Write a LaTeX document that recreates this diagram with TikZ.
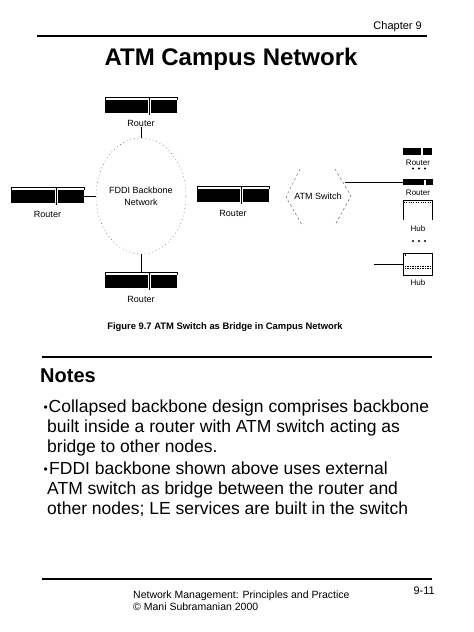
\documentclass[tikz,border=0pt]{standalone}
\usepackage{fontspec}
\setmainfont{Liberation Sans}
\usetikzlibrary{calc,shapes.geometric}
\tikzset{
  lbl/.style={font=\fontsize{9}{12}\selectfont, inner sep=0pt},
  smalllbl/.style={font=\fontsize{8}{9}\selectfont, inner sep=0pt},
  router/.style={minimum width=72pt, minimum height=18pt, inner sep=0pt},
  note/.style={anchor=base west, inner sep=0pt, font=\fontsize{17.5}{20}\selectfont},
  bull/.style={anchor=base west, inner sep=0pt, font=\fontsize{12}{12}\selectfont},
  rule/.style={line width=1.4pt},
  link/.style={line width=0.8pt},
}
\begin{document}
\begin{tikzpicture}[x=1pt,y=1pt]
	\useasboundingbox (0,0) rectangle (474,-632);
	% header
	\node[anchor=base east, inner sep=0pt, font=\fontsize{11}{13}\selectfont] (chap) at (422,-29) {Chapter 9};
	\draw[rule] (37,-36) -- (427,-36);
	\node[anchor=base, inner sep=0pt, font=\fontsize{24}{26}\selectfont\bfseries] (title) at (231,-65) {ATM Campus Network};
	% FDDI ring and routers
	\node[ellipse, draw, black!70, text=black, dash pattern=on 0.8pt off 3pt, minimum width=86pt, minimum height=116pt, align=center, lbl] (fddi) at (141,-196) {FDDI Backbone\\Network};
	\node[router] (rtop) at (141,-106) {};
	\node[router] (rleft) at (47.5,-196) {};
	\node[router] (rmid) at (233,-195) {};
	\node[router] (rbot) at (141,-281) {};
	\foreach \r in {rtop,rleft,rmid,rbot} {
		\coordinate (\r n) at ($(\r.north west)!0.62!(\r.north east)$);
		\coordinate (\r s) at ($(\r.south west)!0.62!(\r.south east)$);
		\fill ($(\r.north west)+(0,-3)$) rectangle ($(\r s)+(-1.5,2)$);
		\fill ($(\r n)+(1.5,-3)$) rectangle ($(\r.south east)+(0,2)$);
		\draw[thin] ($(\r.north west)+(0,-3)$) |- (\r.north east) -- ++(0,-3);
		\draw[thin] (\r n) -- (\r s);
	}
	\node[lbl, below=5pt] (rtopl) at (rtop.south) {Router};
	\node[lbl, below=6pt] (rleftl) at (rleft.south) {Router};
	\node[lbl, below=6pt] (rmidl) at (rmid.south) {Router};
	\node[lbl, below=6pt] (rbotl) at (rbot.south) {Router};
	\draw[link] (rtopl.south) -- (fddi.north);
	\draw[link] (rleft.east) -- (fddi.west);
	\draw[link] (fddi.south) -- (rbot.north);
	% ATM switch
	\node[lbl] (atm) at (318,-196) {ATM Switch};
	\draw[black!70, thin, dash pattern=on 2.5pt off 2.5pt] (300,-169) -- (286,-197) -- (302,-225);
	\draw[black!70, thin, dash pattern=on 2.5pt off 2.5pt] (335,-169) -- (351,-196) -- (335,-225);
	\coordinate (atmr) at (345,-182);
	% nodes behind the switch
	\node[minimum width=29pt, minimum height=7pt, inner sep=0pt] (ra) at (417.5,-151.5) {};
	\fill (ra.north west) rectangle ($(ra.south)+(3.5,0)$);
	\fill ($(ra.north)+(5.5,0)$) rectangle (ra.south east);
	\node[smalllbl] (ral) at (418,-163) {Router};
	\foreach \dx in {-6,0,6} \fill (419+\dx,-168.5) circle (1.2pt);
	\node[minimum width=29pt, minimum height=6pt, inner sep=0pt] (rb) at (417.5,-182) {};
	\fill ($(rb.north west)+(0,-1)$) rectangle ($(rb.south)+(6,0)$);
	\fill ($(rb.north)+(8,-1)$) rectangle (rb.south east);
	\draw[thin] (rb.south west) |- (rb.north east) -- (rb.south east);
	\node[smalllbl] (rbl) at (418,-193) {Router};
	\draw[link] (atmr) -- (rb.west);
	\node[minimum width=29pt, minimum height=20pt, inner sep=0pt] (huba) at (417.5,-210) {};
	\draw[thin] (huba.south west) |- (huba.north east) -- (huba.south east);
	\draw[thin, dotted] ($(huba.north west)+(1,-2)$) -- ($(huba.north east)+(-1,-2)$);
	\node[smalllbl] (hubal) at (418,-229) {Hub};
	\foreach \dx in {-6,0,6} \fill (419+\dx,-241) circle (1.2pt);
	\node[draw, thin, minimum width=29pt, minimum height=22pt, inner sep=0pt] (hubb) at (417.5,-264) {};
	\draw[thin, dash pattern=on 1.5pt off 1pt] ($(hubb.south west)+(2,7)$) -- ($(hubb.south east)+(-2,7)$);
	\draw[thin, dash pattern=on 1.5pt off 1pt] ($(hubb.south west)+(2,9)$) -- ($(hubb.south east)+(-2,9)$);
	\draw[thin] ($(hubb.north west)+(2,-1)$) -- ++(0,-2);
	\node[smalllbl] (hubbl) at (418,-283) {Hub};
	\coordinate (hubin) at (374,-264);
	\draw[link] (hubin) -- (hubb.west);
	% caption
	\node[anchor=base, inner sep=0pt, font=\fontsize{9.4}{11}\selectfont\bfseries] (cap) at (225,-329) {Figure 9.7 ATM Switch as Bridge in Campus Network};
	% notes
	\draw[rule] (42,-357) -- (432,-357);
	\node[anchor=base west, inner sep=0pt, font=\fontsize{20}{22}\selectfont\bfseries] (notes) at (40,-382) {Notes};
	\node[bull] (b1) at (43.5,-411) {\textbullet};
	\node[note] (n1) at (48.5,-412) {Collapsed backbone design comprises backbone};
	\node[note] (n2) at (47,-432) {built inside a router with ATM switch acting as};
	\node[note] (n3) at (47,-452) {bridge to other nodes.};
	\node[bull] (b2) at (43.5,-473) {\textbullet};
	\node[note] (n4) at (49,-474) {FDDI backbone shown above uses external};
	\node[note] (n5) at (47,-494) {ATM switch as bridge between the router and};
	\node[note] (n6) at (47,-514) {other nodes; LE services are built in the switch};
	% footer
	\draw[rule] (42,-579) -- (432,-579);
	\node[anchor=base west, inner sep=0pt, font=\fontsize{10.5}{12}\selectfont] (foot1) at (133,-598) {Network Management: Principles and Practice};
	\node[anchor=base west, inner sep=0pt, font=\fontsize{10.5}{12}\selectfont] (foot2) at (133,-610) {\textcopyright\ Mani Subramanian 2000};
	\node[anchor=base east, inner sep=0pt, font=\fontsize{11}{12}\selectfont] (page) at (435,-594) {9-11};
\end{tikzpicture}
\end{document}
